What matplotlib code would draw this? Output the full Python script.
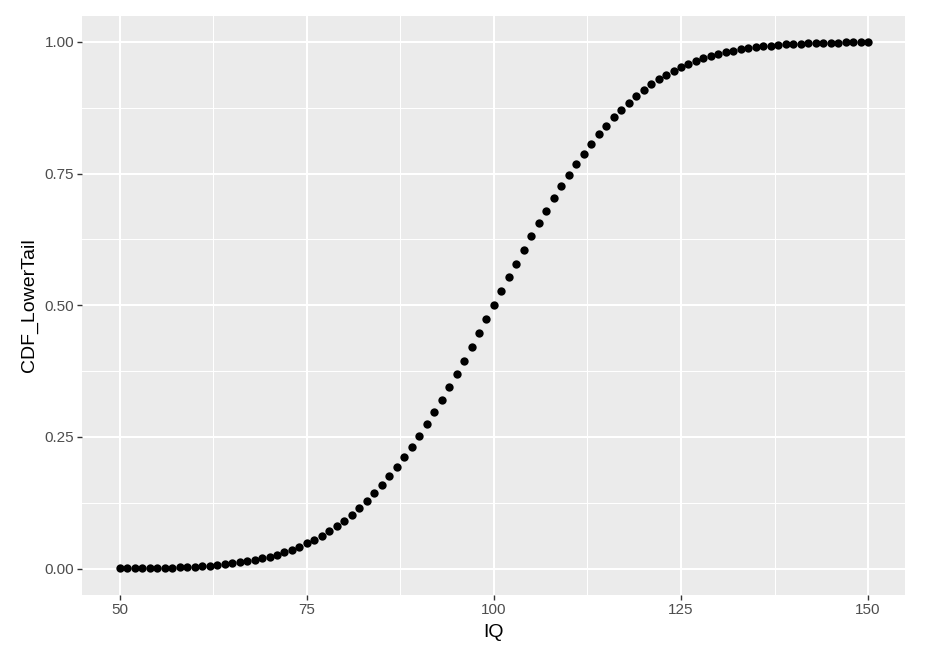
import matplotlib
matplotlib.use("Agg")
import matplotlib.pyplot as plt
from matplotlib.ticker import FixedLocator

plt.rcParams['font.family'] = ['Liberation Sans', 'DejaVu Sans']

IQ = list(range(50, 151))
CDF_LowerTail = [
    0.0004, 0.0005, 0.0007, 0.0009, 0.0011, 0.0013, 0.0017, 0.0021, 0.0026, 0.0031,
    0.0038, 0.0047, 0.0056, 0.0068, 0.0082, 0.0098, 0.0117, 0.0139, 0.0164, 0.0194,
    0.0228, 0.0266, 0.0310, 0.0359, 0.0415, 0.0478, 0.0548, 0.0626, 0.0712, 0.0808,
    0.0912, 0.1026, 0.1151, 0.1285, 0.1431, 0.1587, 0.1753, 0.1931, 0.2119, 0.2317,
    0.2525, 0.2743, 0.2969, 0.3204, 0.3446, 0.3694, 0.3949, 0.4207, 0.4470, 0.4734,
    0.5000,
    0.5266, 0.5530, 0.5793, 0.6051, 0.6306, 0.6554, 0.6796, 0.7031, 0.7257, 0.7475,
    0.7683, 0.7881, 0.8069, 0.8247, 0.8413, 0.8569, 0.8715, 0.8849, 0.8974, 0.9088,
    0.9192, 0.9288, 0.9374, 0.9452, 0.9522, 0.9585, 0.9641, 0.9690, 0.9734, 0.9772,
    0.9806, 0.9836, 0.9861, 0.9883, 0.9902, 0.9918, 0.9932, 0.9944, 0.9953, 0.9962,
    0.9969, 0.9974, 0.9979, 0.9983, 0.9987, 0.9989, 0.9991, 0.9993, 0.9995, 0.9996,
]
x_ticks = [50, 75, 100, 125, 150]
x_labels = ["50", "75", "100", "125", "150"]
y_ticks = [0.00, 0.25, 0.50, 0.75, 1.00]
y_labels = ["0.00", "0.25", "0.50", "0.75", "1.00"]
x_minor = [62.5, 87.5, 112.5, 137.5]
y_minor = [0.125, 0.375, 0.625, 0.875]

fig = plt.figure(figsize=(9.28, 6.47), dpi=100)
ax = fig.add_axes([0.0889, 0.0804, 0.9757 - 0.0889, 0.9759 - 0.0804])
ax.set_facecolor('#EBEBEB')
for s in ax.spines.values():
    s.set_visible(False)

ax.set_xlim(45, 155)
ax.set_ylim(-0.05, 1.05)
ax.xaxis.set_major_locator(FixedLocator(x_ticks))
ax.yaxis.set_major_locator(FixedLocator(y_ticks))
ax.xaxis.set_minor_locator(FixedLocator(x_minor))
ax.yaxis.set_minor_locator(FixedLocator(y_minor))
ax.set_xticklabels(x_labels)
ax.set_yticklabels(y_labels)
ax.grid(which='major', color='white', linewidth=1.5)
ax.grid(which='minor', color='white', linewidth=0.75)
ax.set_axisbelow(True)
ax.tick_params(which='major', length=3.5, width=1.0, color='#333333',
               labelcolor='#4D4D4D', labelsize=11, pad=2.5)
ax.tick_params(which='minor', length=0)

ax.scatter(IQ, CDF_LowerTail, s=36, color='black', zorder=3, linewidths=0)

ax.set_xlabel('IQ', fontsize=14, color='black', labelpad=5)
ax.set_ylabel('CDF_LowerTail', fontsize=14, color='black', labelpad=5)

fig.savefig('out.png', dpi=100)
